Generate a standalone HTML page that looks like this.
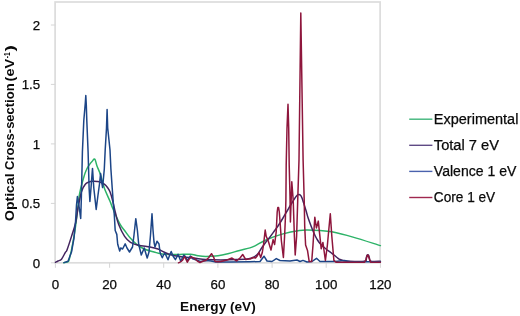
<!DOCTYPE html>
<html><head><meta charset="utf-8"><title>Optical cross-section</title>
<style>
html,body{margin:0;padding:0;background:#fff;}
body{width:520px;height:316px;overflow:hidden;}
svg{display:block;}
text{font-family:"Liberation Sans","DejaVu Sans",sans-serif;fill:#0a0a0a;}
.t,.l{stroke:#0a0a0a;stroke-width:0.25px;}
.t{font-size:13.3px;}
.l{font-size:14px;}
.b{font-size:13px;font-weight:bold;}
</style></head><body>
<svg width="520" height="316" viewBox="0 0 520 316">
<rect width="520" height="316" fill="#fff"/>
<rect x="55.1" y="2.0" width="325.0" height="260.8" fill="none" stroke="#dcdcdc" stroke-width="1.7"/>
<line x1="55.4" y1="262.8" x2="55.4" y2="267.8" stroke="#d6d6d6" stroke-width="1"/>
<line x1="50.9" y1="262.8" x2="55.4" y2="262.8" stroke="#d6d6d6" stroke-width="1"/>
<line x1="50.9" y1="203.4" x2="55.4" y2="203.4" stroke="#d6d6d6" stroke-width="1"/>
<line x1="50.9" y1="143.9" x2="55.4" y2="143.9" stroke="#d6d6d6" stroke-width="1"/>
<line x1="50.9" y1="84.4" x2="55.4" y2="84.4" stroke="#d6d6d6" stroke-width="1"/>
<line x1="50.9" y1="25.0" x2="55.4" y2="25.0" stroke="#d6d6d6" stroke-width="1"/>
<line x1="109.6" y1="262.8" x2="109.6" y2="267.8" stroke="#d6d6d6" stroke-width="1"/>
<line x1="163.7" y1="262.8" x2="163.7" y2="267.8" stroke="#d6d6d6" stroke-width="1"/>
<line x1="217.9" y1="262.8" x2="217.9" y2="267.8" stroke="#d6d6d6" stroke-width="1"/>
<line x1="272.1" y1="262.8" x2="272.1" y2="267.8" stroke="#d6d6d6" stroke-width="1"/>
<line x1="326.2" y1="262.8" x2="326.2" y2="267.8" stroke="#d6d6d6" stroke-width="1"/>
<line x1="380.4" y1="262.8" x2="380.4" y2="267.8" stroke="#d6d6d6" stroke-width="1"/>
<path d="M63.8,262.7C64.6,262.5 67.5,262.6 68.5,261.5C69.5,260.4 69.5,257.9 70.0,256.0C70.5,254.1 70.7,254.1 71.5,250.0C72.3,245.9 73.9,237.3 74.8,231.5C75.7,225.7 76.2,221.3 77.0,215.0C77.8,208.7 78.5,199.7 79.6,193.6C80.7,187.5 82.3,182.4 83.4,178.5C84.5,174.6 85.3,172.2 86.3,170.0C87.2,167.8 88.1,166.6 89.1,165.2C90.0,163.8 91.0,162.5 92.0,161.5C93.0,160.5 94.0,158.3 94.8,159.1C95.6,159.8 96.0,163.4 97.0,166.0C98.0,168.6 99.3,171.0 100.5,174.7C101.7,178.4 102.7,183.6 104.3,188.0C105.9,192.4 108.5,197.7 110.0,201.2C111.5,204.7 111.4,205.3 113.0,209.0C114.6,212.7 117.8,220.0 119.7,223.6C121.6,227.2 122.8,228.1 124.6,230.5C126.4,232.9 128.5,236.0 130.5,238.3C132.5,240.6 134.1,242.4 136.4,244.2C138.7,246.0 141.3,247.7 144.2,249.0C147.1,250.3 151.1,251.2 154.0,252.0C156.9,252.8 159.0,253.6 161.9,254.0C164.8,254.4 168.7,254.4 171.7,254.5C174.7,254.6 176.9,254.6 180.0,254.5C183.1,254.4 187.4,254.0 190.4,254.2C193.4,254.4 195.4,255.4 198.0,255.8C200.6,256.2 202.5,256.5 205.8,256.5C209.1,256.5 214.2,256.3 218.0,255.8C221.8,255.3 225.2,254.4 228.8,253.5C232.4,252.6 236.1,251.3 239.6,250.4C243.1,249.5 247.4,248.7 250.0,247.9C252.6,247.1 252.2,247.2 255.0,245.8C257.8,244.4 261.8,241.7 266.5,239.7C271.2,237.7 277.5,235.4 283.0,233.9C288.5,232.4 295.3,231.2 299.4,230.6C303.5,230.0 304.2,230.1 307.6,230.1C311.0,230.1 316.0,230.2 320.0,230.5C324.0,230.8 326.3,230.7 331.8,231.8C337.3,232.9 344.9,234.8 353.0,237.1C361.1,239.4 375.8,244.2 380.4,245.6" fill="none" stroke="#2db368" stroke-width="1.5" stroke-linejoin="round" stroke-linecap="round"/>
<path d="M55.5,262.3C55.9,262.1 57.0,261.5 58.0,261.0C59.0,260.5 60.3,260.6 61.5,259.2C62.7,257.8 64.5,253.8 65.4,252.3C66.3,250.8 66.0,252.7 67.0,250.0C68.0,247.3 70.1,240.9 71.5,236.4C72.9,231.9 74.5,227.7 75.6,223.0C76.7,218.3 77.0,213.2 78.0,208.0C79.0,202.8 80.3,195.7 81.5,191.7C82.7,187.7 84.0,185.8 85.3,184.2C86.5,182.6 87.7,182.5 89.0,182.0C90.3,181.5 91.6,181.4 92.9,181.3C94.2,181.2 95.8,181.3 97.0,181.5C98.2,181.7 99.2,181.8 100.4,182.2C101.6,182.6 103.1,183.3 104.3,184.2C105.5,185.1 106.5,186.2 107.5,187.5C108.5,188.8 109.1,189.4 110.0,191.7C110.9,194.0 111.9,197.6 112.8,201.2C113.7,204.8 114.5,209.1 115.5,213.0C116.5,216.9 117.2,220.7 118.7,224.6C120.2,228.5 122.6,233.4 124.6,236.4C126.6,239.4 128.2,240.8 130.5,242.3C132.8,243.8 135.1,244.4 138.3,245.2C141.6,246.0 146.7,246.4 150.0,247.0C153.3,247.6 155.7,248.2 158.0,249.0C160.3,249.8 161.5,251.0 163.8,252.0C166.1,253.0 169.1,254.3 171.7,255.0C174.3,255.7 175.9,255.9 179.5,256.4C183.1,256.9 189.1,257.5 193.5,258.0C197.9,258.5 201.2,259.3 205.8,259.6C210.4,259.9 215.9,260.0 221.0,260.0C226.1,260.0 231.9,259.8 236.5,259.6C241.1,259.4 246.1,259.2 248.8,258.8C251.6,258.4 251.8,258.1 253.0,257.5C254.2,256.9 255.1,256.2 256.0,255.5C256.9,254.8 257.2,254.8 258.2,253.5C259.2,252.2 260.6,249.5 262.0,247.5C263.4,245.5 265.0,243.2 266.3,241.5C267.6,239.8 268.6,238.8 270.0,237.0C271.4,235.2 273.4,232.3 274.7,230.5C276.0,228.7 276.6,228.1 278.0,226.0C279.4,223.9 281.4,220.7 283.0,218.0C284.6,215.3 286.4,212.2 287.7,210.0C289.0,207.8 289.9,206.2 291.0,204.5C292.1,202.8 293.1,200.9 294.0,199.5C294.9,198.1 295.8,196.8 296.5,196.0C297.2,195.2 297.8,194.7 298.5,194.6C299.2,194.5 299.9,194.6 300.5,195.2C301.1,195.8 301.5,196.8 302.0,198.0C302.5,199.2 302.8,200.4 303.5,202.5C304.2,204.6 305.2,208.0 306.0,210.5C306.8,213.0 307.2,215.2 308.0,217.5C308.8,219.8 309.7,222.3 310.5,224.5C311.3,226.7 312.1,228.7 312.8,230.5C313.6,232.3 314.2,233.9 315.0,235.5C315.8,237.1 316.7,238.7 317.5,240.0C318.3,241.3 319.2,242.5 320.0,243.5C320.8,244.5 321.5,245.1 322.5,246.0C323.5,246.9 324.8,248.0 326.0,249.0C327.2,250.0 328.7,250.8 330.0,251.8C331.3,252.8 332.8,254.1 334.0,255.0C335.2,255.9 336.0,256.8 337.0,257.5C338.0,258.2 339.0,259.0 340.0,259.5C341.0,260.0 341.7,260.3 343.0,260.6C344.3,260.9 344.1,261.1 347.7,261.2C351.3,261.3 361.3,261.7 364.4,261.2C367.5,260.7 365.8,259.0 366.2,258.0C366.6,257.0 366.7,255.7 367.1,255.2C367.5,254.7 368.1,254.7 368.5,255.2C368.9,255.7 369.0,257.0 369.4,258.0C369.8,259.0 369.0,260.6 370.8,261.2C372.6,261.8 378.8,261.3 380.4,261.3" fill="none" stroke="#43245f" stroke-width="1.5" stroke-linejoin="round" stroke-linecap="round"/>
<polyline points="64.0,262.6 68.0,261.3 70.0,256.0 71.5,252.0 74.0,238.0 75.5,222.0 76.5,205.0 77.4,196.6 79.0,206.0 80.7,218.4 81.3,200.0 82.4,152.0 83.8,120.5 85.3,103.0 85.8,95.6 86.3,105.0 86.8,120.5 88.1,152.0 89.1,188.0 89.9,201.5 91.0,188.0 92.5,168.4 93.8,188.0 96.2,209.4 98.0,195.0 99.5,184.0 100.6,173.5 101.5,181.0 102.6,187.5 104.3,169.0 105.2,150.0 106.5,128.0 107.1,109.5 107.7,128.0 110.0,150.0 110.9,169.0 112.2,188.0 113.6,207.0 114.3,215.0 115.2,230.5 116.8,234.4 117.7,244.2 119.7,251.0 120.7,248.0 122.6,249.0 125.2,243.8 127.0,248.0 129.5,252.0 132.5,247.0 134.0,235.0 135.8,218.7 137.4,230.5 138.7,244.2 141.3,255.0 144.2,248.0 147.2,258.0 149.0,252.0 150.5,235.0 152.0,213.8 153.0,230.0 154.0,242.0 155.0,247.0 157.0,241.3 159.0,244.0 160.0,252.0 161.0,255.0 162.3,257.8 163.5,255.0 165.0,253.2 166.5,256.5 168.0,259.7 169.5,255.5 171.2,251.5 173.0,256.0 175.4,259.7 176.8,257.0 178.0,254.3 179.5,258.0 180.8,261.2 182.3,258.0 183.8,255.0 185.0,256.0 187.3,260.6 189.0,258.0 190.4,256.0 192.7,258.7 195.0,259.5 200.4,261.4 206.5,260.6 211.0,261.0 215.8,262.0 230.0,262.0 250.0,261.8 260.0,261.5 264.0,256.2 267.0,261.0 272.0,261.5 276.3,258.6 280.0,260.5 290.0,261.0 297.0,260.0 300.0,261.5 303.0,260.4 307.0,262.0 312.0,261.5 316.5,258.3 320.0,261.5 335.0,261.4 344.5,260.4 350.0,261.8 380.4,261.8" fill="none" stroke="#1c4587" stroke-width="1.5" stroke-linejoin="round" stroke-linecap="round"/>
<polyline points="178.5,262.8 180.5,261.8 182.3,260.5 184.6,256.6 185.6,258.5 187.3,262.2 189.2,259.0 191.5,256.8 194.2,258.3 197.3,261.0 200.0,262.5 203.5,261.0 205.8,260.6 208.8,257.5 211.5,253.7 213.8,257.5 215.0,261.4 218.0,261.8 221.0,261.4 227.0,260.0 232.0,258.0 236.5,261.0 240.0,258.0 242.7,254.5 245.8,259.6 250.4,258.8 253.0,257.5 255.5,258.0 257.5,255.5 259.0,252.5 260.7,257.5 262.3,252.5 263.5,245.0 265.2,230.0 266.2,236.4 268.1,240.5 271.0,250.0 273.1,239.6 274.6,244.5 276.2,232.0 277.2,212.0 277.8,207.6 278.6,207.6 279.3,212.0 280.0,221.0 281.4,241.0 283.4,257.5 284.6,236.0 285.4,218.0 285.9,200.0 286.2,165.0 287.0,128.0 288.0,104.3 288.7,128.0 289.2,165.0 290.0,196.0 290.4,222.0 291.8,181.7 293.2,200.0 294.4,236.4 295.2,255.0 296.6,236.4 297.7,201.0 299.0,160.0 300.8,12.9 303.1,160.0 304.2,200.0 304.7,226.0 305.6,245.0 307.5,250.4 309.2,261.6 311.7,261.6 313.0,245.0 314.8,217.2 316.4,228.0 318.3,221.1 321.2,248.7 322.9,242.4 325.4,260.4 327.4,245.0 328.6,231.8 330.3,213.8 331.8,236.0 333.9,260.4 336.0,262.3 364.6,262.3 366.4,258.5 367.3,255.2 368.3,255.2 369.2,258.5 370.6,262.3 380.4,262.3" fill="none" stroke="#8e163c" stroke-width="1.5" stroke-linejoin="round" stroke-linecap="round"/>
<text x="40.2" y="267.7" text-anchor="end" class="t">0</text>
<text x="40.2" y="208.3" text-anchor="end" class="t">0.5</text>
<text x="40.2" y="148.8" text-anchor="end" class="t">1</text>
<text x="40.2" y="89.3" text-anchor="end" class="t">1.5</text>
<text x="40.2" y="29.9" text-anchor="end" class="t">2</text>
<text x="55.4" y="288.9" text-anchor="middle" class="t">0</text>
<text x="109.6" y="288.9" text-anchor="middle" class="t">20</text>
<text x="163.7" y="288.9" text-anchor="middle" class="t">40</text>
<text x="217.9" y="288.9" text-anchor="middle" class="t">60</text>
<text x="272.1" y="288.9" text-anchor="middle" class="t">80</text>
<text x="326.2" y="288.9" text-anchor="middle" class="t">100</text>
<text x="380.4" y="288.9" text-anchor="middle" class="t">120</text>
<text x="217.9" y="311" text-anchor="middle" class="b" textLength="75.6" lengthAdjust="spacingAndGlyphs">Energy (eV)</text>
<text transform="translate(14.0,221) rotate(-90)" class="b" textLength="47.6" lengthAdjust="spacingAndGlyphs">Optical</text>
<text transform="translate(14.0,170) rotate(-90)" class="b" textLength="86.6" lengthAdjust="spacingAndGlyphs">Cross-section</text>
<text transform="translate(14.0,81.4) rotate(-90)" class="b" textLength="22.6" lengthAdjust="spacingAndGlyphs">(eV</text>
<text transform="translate(9.8,58.2) rotate(-90)" class="b" style="font-size:8.5px" textLength="5.8" lengthAdjust="spacingAndGlyphs">-1</text>
<text transform="translate(14.0,51.6) rotate(-90)" class="b" textLength="6.4" lengthAdjust="spacingAndGlyphs">)</text>
<line x1="409.2" y1="119.2" x2="432.4" y2="119.2" stroke="#3fb57a" stroke-width="1.4"/>
<text x="433.8" y="123.8" class="l" textLength="84.6" lengthAdjust="spacingAndGlyphs">Experimental</text>
<line x1="409.2" y1="145.3" x2="432.4" y2="145.3" stroke="#5f4a85" stroke-width="1.4"/>
<text x="433.8" y="149.9" class="l" textLength="65.2" lengthAdjust="spacingAndGlyphs">Total 7 eV</text>
<line x1="409.2" y1="171.4" x2="432.4" y2="171.4" stroke="#4a62ad" stroke-width="1.4"/>
<text x="433.8" y="176.0" class="l" textLength="82.6" lengthAdjust="spacingAndGlyphs">Valence 1 eV</text>
<line x1="409.2" y1="197.5" x2="432.4" y2="197.5" stroke="#a0284f" stroke-width="1.4"/>
<text x="433.8" y="202.1" class="l" textLength="61.4" lengthAdjust="spacingAndGlyphs">Core 1 eV</text>
</svg>
</body></html>
